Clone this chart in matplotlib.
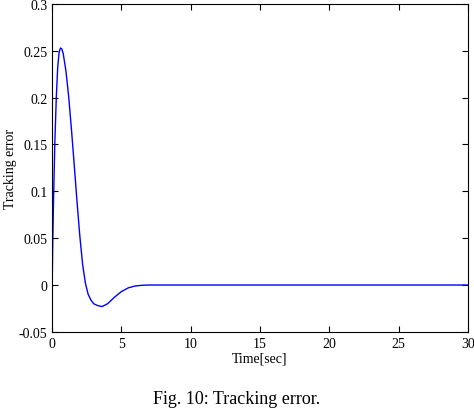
import matplotlib
matplotlib.use("Agg")
import matplotlib.pyplot as plt

# values
time_sec = [0, 0.05, 0.1, 0.2, 0.3, 0.4, 0.5, 0.6, 0.7, 0.8, 1.0, 1.2, 1.4, 1.6, 1.8,
            2.0, 2.2, 2.4, 2.6, 2.8, 3.0, 3.3, 3.6, 4.0, 4.5, 5.0, 5.5, 6.0, 6.5,
            7.0, 10.0, 30.0]
track_err = [0, 0.05, 0.09, 0.155, 0.2, 0.232, 0.248, 0.253, 0.252, 0.247, 0.228,
             0.2, 0.165, 0.127, 0.088, 0.052, 0.022, 0.002, -0.01, -0.016, -0.02,
             -0.022, -0.023, -0.02, -0.013, -0.007, -0.003, -0.001, -0.0003,
             0, 0, 0]

plt.rcParams['font.family'] = ['Liberation Serif', 'DejaVu Serif']

fig = plt.figure(figsize=(4.74, 4.14), dpi=100)
ax = fig.add_axes([0.11, 0.196, 0.877, 0.792])
ax.plot(time_sec, track_err, color='#0000ff', lw=1.0)
ax.set_xlim(0, 30)
ax.set_ylim(-0.05, 0.3)
ax.set_xticks(range(0, 31, 5))
ax.set_yticks([-0.05, 0, 0.05, 0.1, 0.15, 0.2, 0.25, 0.3])
ax.set_yticklabels(['-0.05', '0', '0.05', '0.1', '0.15', '0.2', '0.25', '0.3'])
ax.tick_params(direction='in', top=True, right=True, labelsize=10, length=4)
ax.set_xlabel('Time[sec]', fontsize=10, labelpad=1)
ax.set_ylabel('Tracking error', fontsize=10, labelpad=1)
fig.text(0.5, 0.025, 'Fig. 10: Tracking error.', ha='center', fontsize=13)
fig.savefig('out.png', dpi=100)
